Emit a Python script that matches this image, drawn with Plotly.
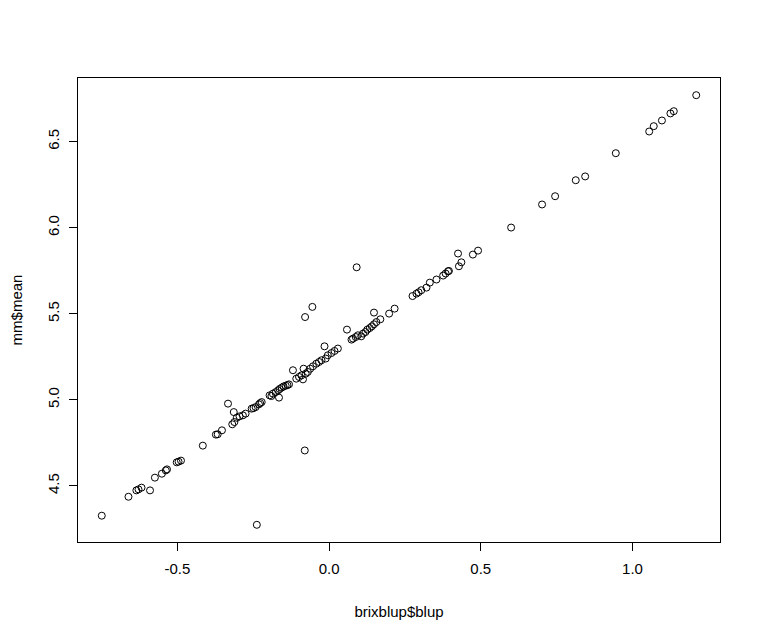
import plotly.graph_objects as go

blup = [
    1.210, 1.136, 1.125, 1.097, 1.070, 1.055, 0.945, 0.844, 0.813, 0.745,
    0.702, 0.600, 0.491, 0.474, 0.425, 0.436, 0.428, 0.395, 0.392, 0.384,
    0.376, 0.354, 0.332, 0.321, 0.304, 0.295, 0.288, 0.275, 0.216, 0.198,
    0.169, 0.059, 0.074, 0.079, 0.088, 0.095, 0.106, 0.112, 0.120, 0.126,
    0.134, 0.141, 0.148, 0.156, 0.148, -0.079, -0.055, 0.091, -0.015,
    -0.119, -0.108, -0.099, -0.091, -0.084, -0.086, -0.077, -0.070, -0.062,
    -0.053, -0.042, -0.033, -0.025, -0.011, -0.004, 0.008, 0.018, 0.029,
    -0.196, -0.190, -0.185, -0.176, -0.168, -0.163, -0.156, -0.150, -0.143,
    -0.137, -0.132, -0.165,
    -0.255, -0.249, -0.242, -0.231, -0.227, -0.222,
    -0.319, -0.312, -0.304, -0.295, -0.284, -0.275, -0.333, -0.314,
    -0.353, -0.367, -0.373, -0.416, -0.488, -0.496, -0.502, -0.534, -0.538,
    -0.551, -0.574, -0.590, -0.618, -0.628, -0.635, -0.661, -0.749,
    -0.238, -0.080,
]

mean = [
    6.770, 6.677, 6.664, 6.623, 6.590, 6.559, 6.433, 6.298, 6.276, 6.183,
    6.135, 6.001, 5.867, 5.844, 5.850, 5.799, 5.776, 5.749, 5.747, 5.734,
    5.722, 5.699, 5.681, 5.652, 5.637, 5.625, 5.617, 5.603, 5.530, 5.501,
    5.468, 5.408, 5.350, 5.356, 5.365, 5.375, 5.369, 5.385, 5.394, 5.408,
    5.417, 5.427, 5.439, 5.452, 5.507, 5.481, 5.540, 5.770, 5.311,
    5.172, 5.123, 5.133, 5.142, 5.181, 5.119, 5.152, 5.162, 5.181,
    5.195, 5.210, 5.220, 5.230, 5.240, 5.259, 5.272, 5.284, 5.298,
    5.026, 5.022, 5.036, 5.045, 5.055, 5.063, 5.071, 5.078, 5.082,
    5.086, 5.090, 5.013,
    4.949, 4.952, 4.958, 4.974, 4.981, 4.987,
    4.858, 4.871, 4.896, 4.904, 4.910, 4.920, 4.978, 4.929,
    4.823, 4.800, 4.798, 4.734, 4.647, 4.641, 4.637, 4.596, 4.590,
    4.571, 4.548, 4.474, 4.490, 4.480, 4.474, 4.437, 4.327,
    4.274, 4.706,
]

x_ticks = [-0.5, 0.0, 0.5, 1.0]
y_ticks = [4.5, 5.0, 5.5, 6.0, 6.5]

xmin, xmax = min(blup), max(blup)
ymin, ymax = min(mean), max(mean)
xpad = 0.04 * (xmax - xmin)
ypad = 0.04 * (ymax - ymin)

fig = go.Figure(
    go.Scatter(
        x=blup, y=mean, mode="markers",
        marker=dict(symbol="circle-open", size=7, color="black",
                    line=dict(color="black", width=1)),
        hoverinfo="x+y",
    )
)

font = dict(family="Liberation Sans, Arial, sans-serif", size=15, color="black")

fig.update_layout(
    width=753, height=632,
    margin=dict(l=70, r=41, t=70, b=98),
    paper_bgcolor="white", plot_bgcolor="white",
    showlegend=False,
    font=font,
    xaxis=dict(
        range=[xmin - xpad, xmax + xpad],
        tickvals=x_ticks, ticktext=[f"{v:.1f}" for v in x_ticks],
        ticks="outside", ticklen=8, tickcolor="black", tickwidth=1,
        showline=True, linecolor="black", linewidth=1, mirror=True,
        showgrid=False, zeroline=False, automargin=False,
        title=dict(text="brixblup$blup", standoff=30, font=font),
        ticklabelstandoff=5,
    ),
    yaxis=dict(
        range=[ymin - ypad, ymax + ypad],
        tickvals=y_ticks, ticktext=[f"{v:.1f}" for v in y_ticks],
        tickangle=-90,
        ticks="outside", ticklen=8, tickcolor="black", tickwidth=1,
        showline=True, linecolor="black", linewidth=1, mirror=True,
        showgrid=False, zeroline=False, automargin=False,
        title=dict(text="mm$mean", standoff=30, font=font),
        ticklabelstandoff=4,
    ),
)

fig.write_html("out.html")
